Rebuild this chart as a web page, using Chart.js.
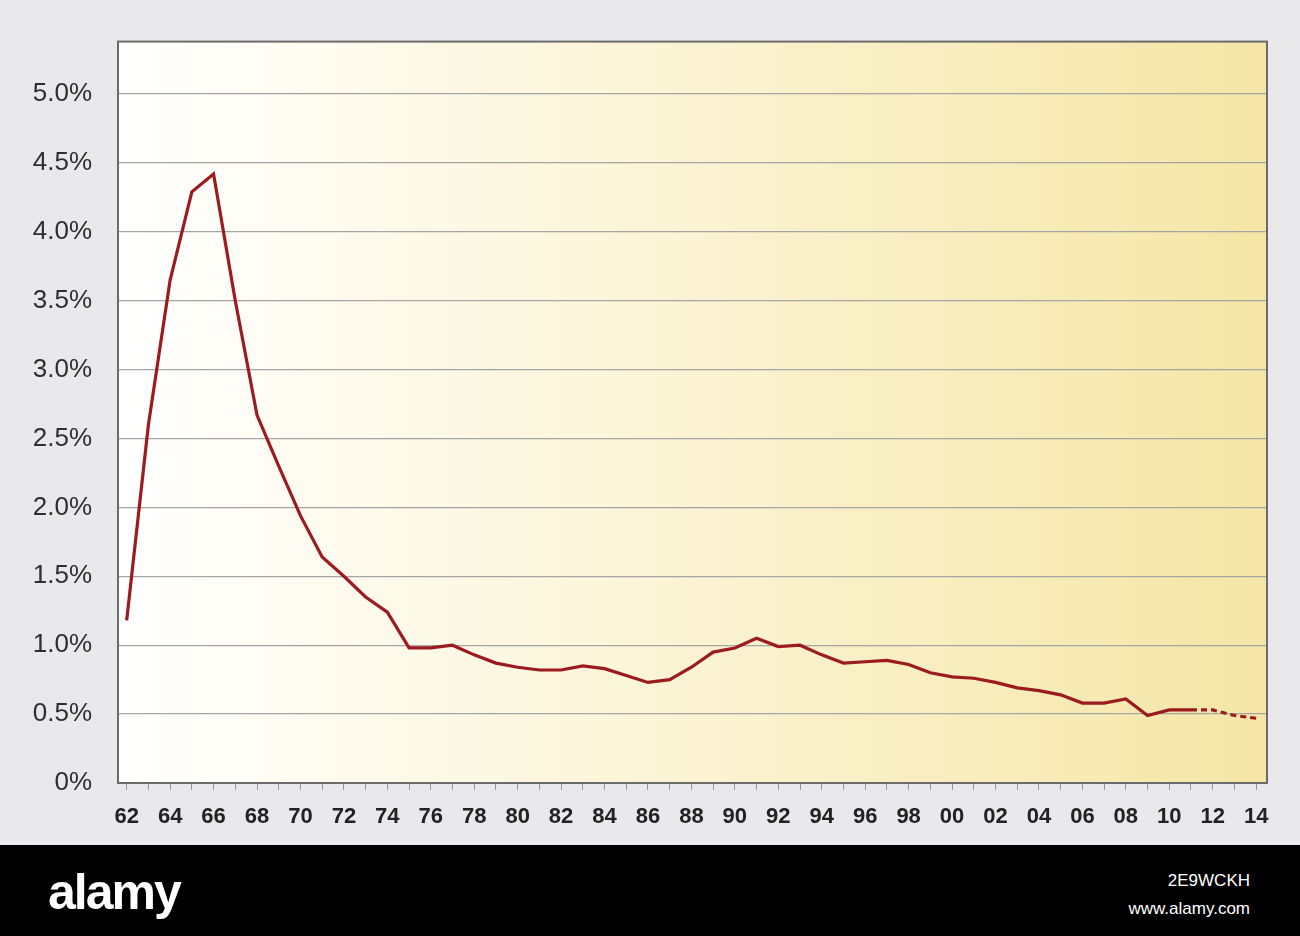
<!DOCTYPE html>
<html>
<head>
<meta charset="utf-8">
<script src="https://cdn.jsdelivr.net/npm/chart.js@4/dist/chart.umd.min.js"></script>
<style>
  body { margin: 0; width: 1300px; height: 936px; background: #e9e9eb; overflow: hidden; font-family: "Liberation Sans", Arial, sans-serif; }
  #wrap { width: 1300px; height: 845px; position: relative; }
  #footer { width: 1300px; height: 91px; background: #000; position: relative; color: #fff; }
  #logo { position: absolute; left: 48px; top: 18px; font-size: 50px; font-weight: bold; letter-spacing: -2px; }
  #ref { position: absolute; right: 50px; top: 22px; font-size: 17px; text-align: right; line-height: 28px; }
</style>
</head>
<body>
<div id="wrap"><canvas id="chart" width="1300" height="845"></canvas></div>
<div id="footer">
  <div id="logo">alamy</div>
  <div id="ref">2E9WCKH<br>www.alamy.com</div>
</div>
<script>
// years and percentage values
let years = [1962,1963,1964,1965,1966,1967,1968,1969,1970,1971,1972,1973,1974,1975,1976,1977,1978,1979,1980,1981,1982,1983,1984,1985,1986,1987,1988,1989,1990,1991,1992,1993,1994,1995,1996,1997,1998,1999,2000,2001,2002,2003,2004,2005,2006,2007,2008,2009,2010,2011,2012,2013,2014];
let values = [1.18,2.6,3.65,4.29,4.42,3.5,2.67,2.3,1.94,1.64,1.5,1.35,1.24,0.98,0.98,1.0,0.93,0.87,0.84,0.82,0.82,0.85,0.83,0.78,0.73,0.75,0.84,0.95,0.98,1.05,0.99,1.0,0.93,0.87,0.88,0.89,0.86,0.8,0.77,0.76,0.73,0.69,0.67,0.64,0.58,0.58,0.61,0.49,0.53,0.53,0.53,0.49,0.47];
let projectedFrom = 2011;
let yTicks = [0,0.5,1,1.5,2,2.5,3,3.5,4,4.5,5];

let points = years.map((y, i) => ({ x: y, y: values[i] }));

const plotBackground = {
    id: "plotBackground",
    beforeDraw(chart) {
        let ctx = chart.ctx;
        let a = chart.chartArea;
        let grad = ctx.createLinearGradient(a.left, 0, a.right, 0);
        grad.addColorStop(0, "#ffffff");
        grad.addColorStop(0.4, "#fcf6dc");
        grad.addColorStop(1, "#f5e6a6");
        ctx.save();
        ctx.fillStyle = grad;
        ctx.fillRect(a.left, a.top, a.right - a.left, a.bottom - a.top);
        ctx.restore();
    },
    afterDraw(chart) {
        let ctx = chart.ctx;
        let a = chart.chartArea;
        ctx.save();
        ctx.strokeStyle = "#6b6b6b";
        ctx.lineWidth = 2;
        ctx.strokeRect(a.left, a.top, a.right - a.left, a.bottom - a.top);
        ctx.restore();
    }
};

new Chart(document.getElementById("chart").getContext("2d"), {
    type: "line",
    data: {
        datasets: [{
            data: points,
            borderColor: "#9b1b1f",
            borderWidth: 3.2,
            pointRadius: 0,
            tension: 0,
            segment: {
                borderDash: (c) => c.p0.parsed.x >= projectedFrom ? [6, 4] : undefined
            }
        }]
    },
    options: {
        responsive: false,
        animation: false,
        layout: { padding: { top: 13, right: 33, left: 0, bottom: 0 } },
        plugins: { legend: { display: false }, tooltip: { enabled: false } },
        scales: {
            x: {
                type: "linear",
                min: 1961.6,
                max: 2014.5,
                afterFit: (s) => { s.height = 62; },
                afterBuildTicks: (s) => { s.ticks = years.map((y) => ({ value: y })); },
                grid: { drawOnChartArea: false, drawTicks: true, tickLength: 7, color: "#9a9a9a" },
                border: { display: false },
                ticks: {
                    autoSkip: false,
                    maxRotation: 0,
                    padding: 14,
                    color: "#222",
                    font: { size: 22, weight: "bold", family: "Liberation Sans" },
                    callback: (v) => v % 2 === 0 ? String(v % 100).padStart(2, "0") : ""
                }
            },
            y: {
                min: 0,
                max: 5.38,
                afterFit: (s) => { s.width = 118; },
                afterBuildTicks: (s) => { s.ticks = yTicks.map((v) => ({ value: v })); },
                grid: { drawTicks: false, color: "#a5a5a5", lineWidth: 1.2 },
                border: { display: false },
                ticks: {
                    padding: 26,
                    color: "#2e2e2e",
                    font: { size: 26, family: "Liberation Sans" },
                    callback: (v) => v === 0 ? "0%" : v.toFixed(1) + "%"
                }
            }
        }
    },
    plugins: [plotBackground]
});
</script>
</body>
</html>
